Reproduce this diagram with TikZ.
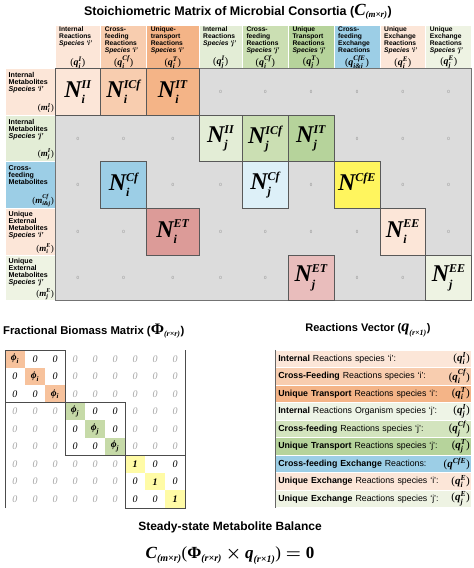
\documentclass[tikz,border=0pt]{standalone}
\usepackage{amsmath}
\usepackage{fontspec}
\setmainfont{Liberation Sans}
\newfontfamily\tms{Liberation Serif}
\usetikzlibrary{positioning}

\definecolor{peachL}{HTML}{FCE6D8}
\definecolor{peachM}{HTML}{F8CDAF}
\definecolor{orangeT}{HTML}{F4B487}
\definecolor{greenL}{HTML}{E3EDD6}
\definecolor{greenM}{HTML}{CBDFB3}
\definecolor{greenD}{HTML}{B6D39B}
\definecolor{blueX}{HTML}{9CCEE6}
\definecolor{blueL}{HTML}{DDF0F8}
\definecolor{yellowX}{HTML}{FFF55E}
\definecolor{redT}{HTML}{DC9B98}
\definecolor{pinkT}{HTML}{E9BDBC}
\definecolor{creamG}{HTML}{EEF3E3}
\definecolor{grayM}{HTML}{DCDCDC}
\definecolor{phiO}{HTML}{F7C29C}
\definecolor{phiG}{HTML}{C6DAA8}
\definecolor{phiY}{HTML}{FFFBA6}

\newcommand{\tb}[1]{\text{\tms\bfseries\itshape #1}}
\newcommand{\tsz}[2]{\text{\fontsize{#1}{#1}\selectfont\tms\bfseries\itshape #2}}
\newcommand{\Nmat}[2]{$\tb{N}^{\tsz{12}{#1}}_{\tsz{12}{#2}}$}
\newcommand{\qv}[2]{\text{\tms(}\tb{q}^{\tb{#1}}_{\tb{#2}}\text{\tms)}}
\newcommand{\mv}[2]{\text{\tms(}\tb{m}^{\tb{#1}}_{\tb{#2}}\text{\tms)}}

\tikzset{%
	ttl/.style    = {inner sep=0pt, font=\fontsize{12.5}{12.5}\selectfont\bfseries},
	hdr/.style    = {anchor=north west, align=left, inner sep=0pt, font=\fontsize{6.7}{6.9}\selectfont\bfseries},
	rowlab/.style = {anchor=north west, align=left, inner sep=0pt, font=\fontsize{7.1}{6.9}\selectfont\bfseries},
	qlab/.style   = {inner sep=0pt, font=\fontsize{10}{10}\selectfont},
	mlab/.style   = {anchor=east, inner sep=0pt, font=\fontsize{9}{9}\selectfont},
	blk/.style    = {draw=black!65, line width=0.6pt, inner sep=0pt, font=\fontsize{24}{24}\selectfont},
	cellbox/.style 2 args = {minimum width=#1, minimum height=#2},
	zero/.style   = {inner sep=0pt, font=\fontsize{4.5}{4.5}\selectfont, text=black!45},
	phicell/.style= {minimum width=20pt, minimum height=17.56pt, inner sep=0pt, font=\fontsize{10}{10}\selectfont\tms\itshape},
	vrow/.style   = {anchor=west, minimum height=17.5pt, text width=190pt, inner xsep=3pt, inner ysep=0pt, align=left, draw=white, line width=0.5pt, font=\fontsize{8.8}{8.8}\selectfont},
	vq/.style     = {anchor=east, inner sep=0pt, font=\fontsize{11}{11}\selectfont},
}

\begin{document}
\begin{tikzpicture}[x=1pt,y=-1pt]
		\useasboundingbox (0,0) rectangle (474,568);
		\node[ttl] (tC) at (238,12) {Stoichiometric Matrix of Microbial Consortia ({\fontsize{17}{17}\selectfont$\tb{C}_{\tsz{9}{(m×r)}}$})};
		
		% header of the stoichiometric matrix
		\foreach \xa/\xb/\cl in {55/100.7/peachL, 100.7/146.7/peachM, 146.7/199/orangeT, 199/242.3/greenL, 242.3/288.3/greenM, 288.3/334/greenD, 334/380/blueX, 380/425.7/peachL, 425.7/471.7/creamG}
			\fill[\cl, draw=white, line width=0.6pt] (\xa,25) rectangle (\xb,68.3);
		\node[hdr] (h1) at (59,26.5) {Internal\\Reactions\\\textit{Species ‘i’}};
		\node[hdr] (h2) at (104.7,26.5) {Cross-\\feeding\\Reactions\\\textit{Species ‘i’}};
		\node[hdr] (h3) at (150.7,26.5) {Unique-\\transport\\Reactions\\\textit{Species ‘i’}};
		\node[hdr] (h4) at (203,26.5) {Internal\\Reactions\\\textit{Species ‘j’}};
		\node[hdr] (h5) at (246.3,26.5) {Cross-\\feeding\\Reactions\\\textit{Species ‘j’}};
		\node[hdr] (h6) at (292.3,26.5) {Unique\\Transport\\Reactions\\\textit{Species ‘j’}};
		\node[hdr] (h7) at (338,26.5) {Cross-\\feeding\\Exchange\\Reactions};
		\node[hdr] (h8) at (384,26.5) {Unique\\Exchange\\Reactions\\\textit{Species ‘i’}};
		\node[hdr] (h9) at (429.7,26.5) {Unique\\Exchange\\Reactions\\\textit{Species ‘j’}};
		\node[qlab] (q1) at (77.85,62.5) {$\qv{I}{i}$};
		\node[qlab] (q2) at (123.7,62.5) {$\qv{Cf}{i}$};
		\node[qlab] (q3) at (172.85,62.5) {$\qv{T}{i}$};
		\node[qlab] (q4) at (220.65,62.5) {$\qv{I}{j}$};
		\node[qlab] (q5) at (265.3,62.5) {$\qv{Cf}{j}$};
		\node[qlab] (q6) at (311.15,62.5) {$\qv{T}{j}$};
		\node[qlab] (q7) at (357,62.5) {$\qv{CfE}{i\&j}$};
		\node[qlab] (q8) at (402.85,62.5) {$\qv{E}{i}$};
		\node[qlab] (q9) at (448.7,62.5) {$\qv{E}{j}$};
		
		% row labels
		\foreach \ya/\yb/\cl in {68.3/115.7/peachL, 115.7/161.7/greenL, 161.7/208.3/blueX, 208.3/255/peachL, 255/300.5/creamG}
			\fill[\cl, draw=white, line width=0.6pt] (5,\ya) rectangle (55,\yb);
		\node[rowlab] (r1) at (8.5,72) {Internal\\Metabolites\\\textit{Species ‘i’}};
		\node[rowlab] (r2) at (8.5,119.2) {Internal\\Metabolites\\\textit{Species ‘j’}};
		\node[rowlab] (r3) at (8.5,165.2) {Cross-\\feeding\\Metabolites};
		\node[rowlab] (r4) at (8.5,211.5) {Unique\\External\\Metabolites\\\textit{Species ‘i’}};
		\node[rowlab] (r5) at (8.5,258.2) {Unique\\External\\Metabolites\\\textit{Species ‘j’}};
		\node[mlab] (m1) at (54,108) {$\mv{I}{i}$};
		\node[mlab] (m2) at (54,154) {$\mv{I}{j}$};
		\node[mlab] (m3) at (54,200.8) {$\mv{Cf}{i\&j}$};
		\node[mlab] (m4) at (54,248.5) {$\mv{E}{i}$};
		\node[mlab] (m5) at (54,294) {$\mv{E}{j}$};
		
		% body
		\fill[grayM, draw=black!55, line width=0.6pt] (55,68.3) rectangle (471.7,300.5);
		\def\colc{{77.85,123.7,172.85,220.65,265.3,311.15,357,402.85,448.7}}
		\def\rowc{{92,138.7,185,231.65,277.75}}
		\foreach \r/\c in {1/4,1/5,1/6,1/7,1/8,1/9, 2/1,2/2,2/3,2/7,2/8,2/9, 3/1,3/3,3/4,3/6,3/8,3/9, 4/1,4/2,4/4,4/5,4/6,4/7,4/9, 5/1,5/2,5/3,5/4,5/5,5/7,5/8} {
			\pgfmathsetmacro\zx{\colc[\c-1]}
			\pgfmathsetmacro\zy{\rowc[\r-1]}
			\node[zero] (z\r-\c) at (\zx,\zy) {0};
		}
		\node[blk, fill=peachL, cellbox={45.7pt}{47.4pt}] (Nii) at (77.85,92) {\Nmat{II}{i}};
		\node[blk, fill=peachM, cellbox={46pt}{47.4pt}] (Nicf) at (123.7,92) {\Nmat{ICf}{i}};
		\node[blk, fill=orangeT, cellbox={52.3pt}{47.4pt}] (Nit) at (172.85,92) {\Nmat{IT}{i}};
		\node[blk, fill=greenL, cellbox={43.3pt}{46pt}] (Njii) at (220.65,138.7) {\Nmat{II}{j}};
		\node[blk, fill=greenM, cellbox={46pt}{46pt}] (Njicf) at (265.3,138.7) {\Nmat{ICf}{j}};
		\node[blk, fill=greenD, cellbox={45.7pt}{46pt}] (Njit) at (311.15,138.7) {\Nmat{IT}{j}};
		\node[blk, fill=blueX, cellbox={46pt}{46.6pt}] (Nicfx) at (123.7,185) {\Nmat{Cf}{i}};
		\node[blk, fill=blueL, cellbox={46pt}{46.6pt}] (Njcfx) at (265.3,185) {\Nmat{Cf}{j}};
		\node[blk, fill=yellowX, cellbox={46pt}{46.6pt}] (Ncfe) at (357,185) {\Nmat{CfE}{}};
		\node[blk, fill=redT, cellbox={52.3pt}{46.7pt}] (Niet) at (172.85,231.65) {\Nmat{ET}{i}};
		\node[blk, fill=peachL, cellbox={45.7pt}{46.7pt}] (Niee) at (402.85,231.65) {\Nmat{EE}{i}};
		\node[blk, fill=pinkT, cellbox={45.7pt}{45.5pt}] (Njet) at (311.15,277.75) {\Nmat{ET}{j}};
		\node[blk, fill=creamG, cellbox={46pt}{45.5pt}] (Njee) at (448.7,277.75) {\Nmat{EE}{j}};
		
		% fractional biomass matrix
		\node[ttl, anchor=west, font=\fontsize{11.3}{11.3}\selectfont\bfseries] (tPhi) at (3,331) {Fractional Biomass Matrix ({\fontsize{16}{16}\selectfont$\text{\tms\bfseries Φ}_{\tsz{8}{(r×r)}}$})};
		\foreach \r in {1,...,9} {
			\foreach \c in {1,...,9} {
				\pgfmathtruncatemacro\br{(\r-1)/3}
				\pgfmathtruncatemacro\bc{(\c-1)/3}
				\pgfmathsetmacro\px{15+(\c-1)*20}
				\pgfmathsetmacro\py{358.78+(\r-1)*17.56}
				\ifnum\r=\c
					\ifcase\br
						\node[phicell, fill=phiO] (p\r-\c) at (\px,\py) {$\tb{ϕ}_{\tb{i}}$};
					\or
						\node[phicell, fill=phiG] (p\r-\c) at (\px,\py) {$\tb{ϕ}_{\tb{j}}$};
					\or
						\node[phicell, fill=phiY] (p\r-\c) at (\px,\py) {\bfseries 1};
					\fi
				\else
					\ifnum\br=\bc
						\node[phicell] (p\r-\c) at (\px,\py) {0};
					\else
						\node[phicell, text=black!35] (p\r-\c) at (\px,\py) {0};
					\fi
				\fi
			}
		}
		\draw[black!70, line width=0.7pt] (5,508) -- (5,350) -- (65,350) -- (65,455.4) -- (185,455.4);
		\draw[black!70, line width=0.7pt] (5,402.7) -- (125,402.7) -- (125,508) -- (185,508) -- (185,350);
		
		% reactions vector
		\node[ttl, font=\fontsize{11}{11}\selectfont\bfseries] (tQ) at (368,330) {Reactions Vector ({\fontsize{16}{16}\selectfont$\tb{q}_{\tsz{8}{(r×1)}}$})};
		\node[vrow, fill=peachL] (v1) at (275,358.75) {\textbf{Internal} Reactions species ‘i’:};
		\node[vrow, fill=peachM] (v2) at (275,376.25) {\textbf{Cross-Feeding} Reactions species ‘i’:};
		\node[vrow, fill=orangeT] (v3) at (275,393.75) {\textbf{Unique Transport} Reactions species ‘i’:};
		\node[vrow, fill=greenL!60] (v4) at (275,411.25) {\textbf{Internal} Reactions Organism species ‘j’:};
		\node[vrow, fill=greenM!85] (v5) at (275,428.75) {\textbf{Cross-feeding} Reactions species ‘j’:};
		\node[vrow, fill=greenD] (v6) at (275,446.25) {\textbf{Unique Transport} Reactions species ‘j’:};
		\node[vrow, fill=blueX] (v7) at (275,463.75) {\textbf{Cross-feeding Exchange} Reactions:};
		\node[vrow, fill=peachL] (v8) at (275,481.25) {\textbf{Unique Exchange} Reactions species ‘i’:};
		\node[vrow, fill=creamG] (v9) at (275,498.75) {\textbf{Unique Exchange} Reactions species ‘j’:};
		\node[vq, left=1.5pt of v1.east] (vq1) {$\qv{I}{i}$};
		\node[vq, left=1.5pt of v2.east] (vq2) {$\qv{Cf}{i}$};
		\node[vq, left=1.5pt of v3.east] (vq3) {$\qv{T}{i}$};
		\node[vq, left=1.5pt of v4.east] (vq4) {$\qv{I}{j}$};
		\node[vq, left=1.5pt of v5.east] (vq5) {$\qv{Cf}{j}$};
		\node[vq, left=1.5pt of v6.east] (vq6) {$\qv{T}{j}$};
		\node[vq, left=1.5pt of v7.east] (vq7) {$\qv{CfE}{}$};
		\node[vq, left=1.5pt of v8.east] (vq8) {$\qv{E}{i}$};
		\node[vq, left=1.5pt of v9.east] (vq9) {$\qv{E}{j}$};
		\draw[black!60, line width=0.8pt] (v1.north west) -- (v9.south west);
		
		% balance
		\node[ttl, font=\fontsize{12}{12}\selectfont\bfseries] (tB) at (230,527) {Steady-state Metabolite Balance};
		\node[inner sep=0pt, font=\fontsize{17}{17}\selectfont] (eq) at (230,556) {$\tb{C}_{\tsz{10}{(m×r)}}\text{\tms(}\text{\tms\bfseries Φ}_{\tsz{10}{(r×r)}}\boldsymbol{\times}\tb{q}_{\tsz{10}{(r×1)}}\text{\tms)}\boldsymbol{=}\text{\tms\bfseries 0}$};
		
	\end{tikzpicture}
\end{document}
